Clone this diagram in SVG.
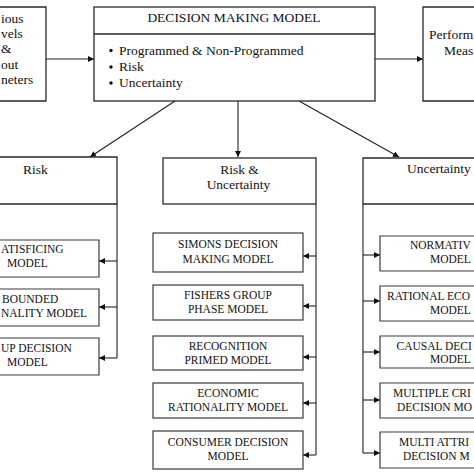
<svg xmlns="http://www.w3.org/2000/svg" width="474" height="474" viewBox="0 0 474 474">
<defs>
<style>
.bx{fill:#fff;stroke:#2a2a2a;stroke-width:1.3}
.cb{fill:#fff;stroke:#3a3a3a;stroke-width:1.2}
.ln{fill:none;stroke:#222;stroke-width:1.1}
.t{font-family:"Liberation Serif","Times New Roman",serif;font-size:13.5px;fill:#111}
.s{font-family:"Liberation Serif","Times New Roman",serif;font-size:11.5px;fill:#111}
.m{text-anchor:middle}
</style>
<marker id="ah" viewBox="0 0 10 10" refX="10" refY="5" markerWidth="6" markerHeight="6" markerUnits="userSpaceOnUse" orient="auto">
<path d="M0,0 L10,5 L0,10 z" fill="#111"/>
</marker>
</defs>
<rect width="474" height="474" fill="#fff"/>

<g id="connectors">
<line class="ln" x1="46" y1="59" x2="94" y2="59" marker-end="url(#ah)"/>
<line class="ln" x1="375" y1="59" x2="423" y2="59" marker-end="url(#ah)"/>
<line class="ln" x1="175" y1="101" x2="90" y2="157" marker-end="url(#ah)"/>
<line class="ln" x1="238" y1="101" x2="238" y2="157" marker-end="url(#ah)"/>
<line class="ln" x1="299" y1="101" x2="399" y2="157" marker-end="url(#ah)"/>
<path class="ln" d="M117,204 V358"/>
<line class="ln" x1="117" y1="261" x2="99" y2="261" marker-end="url(#ah)"/>
<line class="ln" x1="117" y1="307" x2="99" y2="307" marker-end="url(#ah)"/>
<line class="ln" x1="117" y1="358" x2="99" y2="358" marker-end="url(#ah)"/>
<path class="ln" d="M316,204 V455"/>
<line class="ln" x1="316" y1="256" x2="303" y2="256" marker-end="url(#ah)"/>
<line class="ln" x1="316" y1="306" x2="303" y2="306" marker-end="url(#ah)"/>
<line class="ln" x1="316" y1="357" x2="303" y2="357" marker-end="url(#ah)"/>
<line class="ln" x1="316" y1="403" x2="303" y2="403" marker-end="url(#ah)"/>
<line class="ln" x1="316" y1="455" x2="303" y2="455" marker-end="url(#ah)"/>
<path class="ln" d="M363,204 V453"/>
<line class="ln" x1="363" y1="255" x2="380" y2="255" marker-end="url(#ah)"/>
<line class="ln" x1="363" y1="301" x2="380" y2="301" marker-end="url(#ah)"/>
<line class="ln" x1="363" y1="352" x2="380" y2="352" marker-end="url(#ah)"/>
<line class="ln" x1="363" y1="400" x2="380" y2="400" marker-end="url(#ah)"/>
<line class="ln" x1="363" y1="453" x2="380" y2="453" marker-end="url(#ah)"/>
</g>

<g id="parameters">
<path class="bx" d="M0,7 H46 V101 H0"/>
<text class="t" x="1" y="22.5">ious</text>
<text class="t" x="1" y="37.5">vels</text>
<text class="t" x="1" y="53">&amp;</text>
<text class="t" x="1" y="68.5">out</text>
<text class="t" x="1" y="84">neters</text>
</g>

<g id="decision-model">
<rect class="bx" x="94" y="7" width="281" height="94"/>
<line class="bx" x1="94" y1="34" x2="375" y2="34"/>
<text class="t m" x="234" y="22">DECISION MAKING MODEL</text>
<circle cx="111" cy="50.5" r="1.7" fill="#111"/>
<circle cx="111" cy="67" r="1.7" fill="#111"/>
<circle cx="111" cy="83" r="1.7" fill="#111"/>
<text class="t" x="119" y="54.5">Programmed &amp; Non-Programmed</text>
<text class="t" x="119" y="71">Risk</text>
<text class="t" x="119" y="87">Uncertainty</text>
</g>

<g id="performance">
<path class="bx" d="M474,7 H423 V101 H474"/>
<text class="t" x="429" y="39">Perform</text>
<text class="t" x="444" y="55">Meas</text>
</g>

<g id="risk">
<path class="bx" d="M0,157 H117 V204 H0"/>
<text class="t m" x="35.5" y="174">Risk</text>
</g>

<g id="risk-uncertainty">
<rect class="bx" x="163" y="158" width="153" height="46"/>
<text class="t m" x="239.5" y="174">Risk &amp;</text>
<text class="t m" x="238.5" y="189">Uncertainty</text>
</g>

<g id="uncertainty">
<path class="bx" d="M474,158 H363 V204 H474"/>
<text class="t" x="407" y="173">Uncertainty</text>
</g>

<g id="satisficing">
<path class="cb" d="M0,240 H99 V277 H0"/>
<text class="s" x="1" y="253">ATISFICING</text>
<text class="s" x="7" y="267">MODEL</text>
</g>
<g id="bounded">
<path class="cb" d="M0,289 H99 V326 H0"/>
<text class="s" x="2" y="303">BOUNDED</text>
<text class="s" x="1" y="316.5">NALITY MODEL</text>
</g>
<g id="group-decision">
<path class="cb" d="M0,338 H99 V375 H0"/>
<text class="s" x="1" y="352">UP DECISION</text>
<text class="s" x="7" y="366">MODEL</text>
</g>

<g id="simons">
<rect class="cb" x="153" y="233" width="150" height="39"/>
<text class="s m" x="228" y="248">SIMONS DECISION</text>
<text class="s m" x="228" y="263">MAKING MODEL</text>
</g>
<g id="fishers">
<rect class="cb" x="153" y="285" width="150" height="35"/>
<text class="s m" x="228" y="298.5">FISHERS GROUP</text>
<text class="s m" x="228" y="313">PHASE MODEL</text>
</g>
<g id="recognition">
<rect class="cb" x="153" y="336" width="150" height="34"/>
<text class="s m" x="228" y="350">RECOGNITION</text>
<text class="s m" x="228" y="364">PRIMED MODEL</text>
</g>
<g id="economic">
<rect class="cb" x="153" y="383" width="150" height="35"/>
<text class="s m" x="228" y="397">ECONOMIC</text>
<text class="s m" x="228" y="411">RATIONALITY MODEL</text>
</g>
<g id="consumer">
<rect class="cb" x="153" y="431" width="150" height="38"/>
<text class="s m" x="228" y="445.5">CONSUMER DECISION</text>
<text class="s m" x="228" y="460">MODEL</text>
</g>

<g id="normative">
<path class="cb" d="M474,236 H380 V271 H474"/>
<text class="s" x="410" y="249">NORMATIV</text>
<text class="s" x="430" y="263">MODEL</text>
</g>
<g id="rational-economic">
<path class="cb" d="M474,286 H380 V321 H474"/>
<text class="s" x="387" y="299.5">RATIONAL ECO</text>
<text class="s" x="430" y="313.5">MODEL</text>
</g>
<g id="causal">
<path class="cb" d="M474,336 H380 V368 H474"/>
<text class="s" x="396.5" y="349.5">CAUSAL DECI</text>
<text class="s" x="430" y="363">MODEL</text>
</g>
<g id="multiple-criteria">
<path class="cb" d="M474,383 H380 V418 H474"/>
<text class="s" x="393" y="397">MULTIPLE CRI</text>
<text class="s" x="397" y="411">DECISION MO</text>
</g>
<g id="multi-attribute">
<path class="cb" d="M474,432 H380 V468 H474"/>
<text class="s" x="399" y="446">MULTI ATTRI</text>
<text class="s" x="403" y="460">DECISION M</text>
</g>
</svg>
